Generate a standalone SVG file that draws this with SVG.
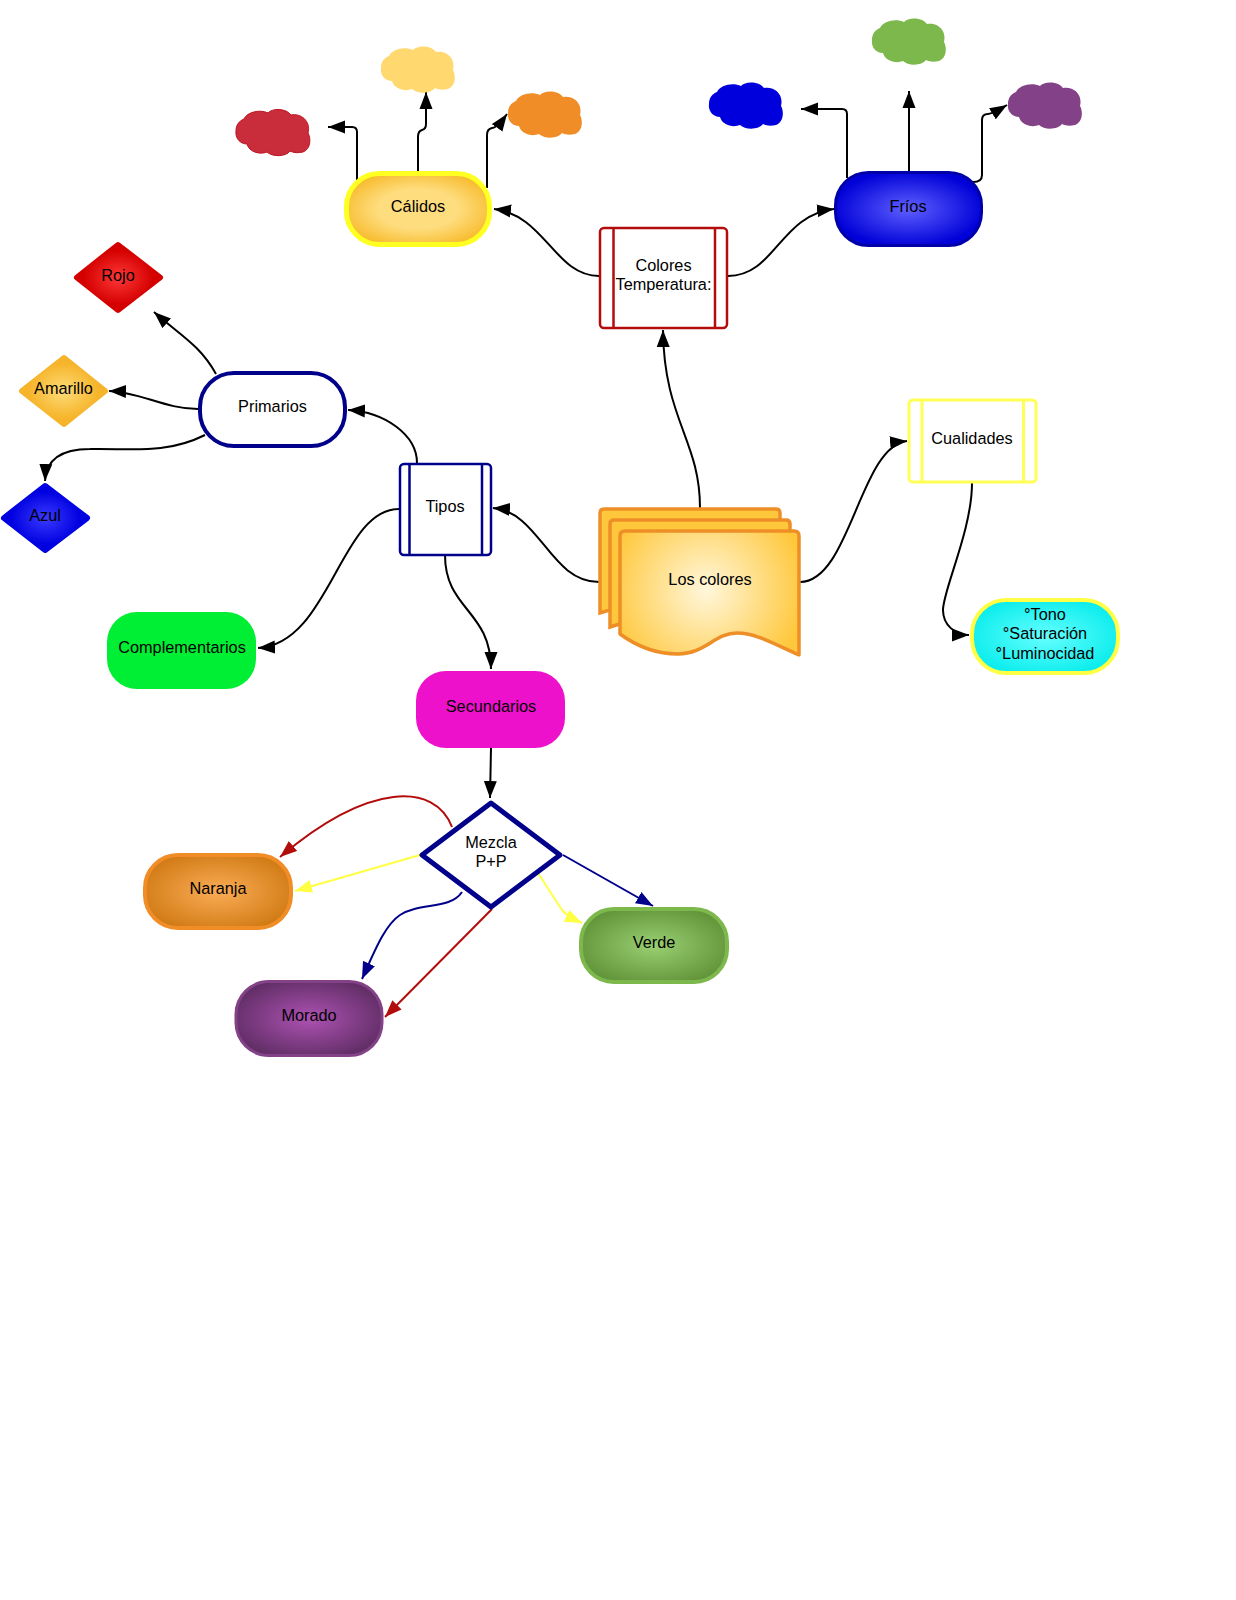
<svg xmlns="http://www.w3.org/2000/svg" xmlns:xlink="http://www.w3.org/1999/xlink" width="1236" height="1600" viewBox="0 0 1236 1600">
<style>
text{font-family:"Liberation Sans",Arial,sans-serif;font-size:16.300px;fill:#000;text-anchor:middle}
.c{fill:none;stroke:#000;stroke-width:2;marker-end:url(#ak)}
.cr{fill:none;stroke:#b30c0c;stroke-width:2;marker-end:url(#ar)}
.cy{fill:none;stroke:#ffff44;stroke-width:2;marker-end:url(#ay)}
.cn{fill:none;stroke:#00008b;stroke-width:2;marker-end:url(#an)}
</style>
<defs>
<marker id="ak" markerUnits="userSpaceOnUse" markerWidth="18" markerHeight="14" refX="17" refY="7" orient="auto"><path d="M0 .5L17 7L0 13.500Z" fill="#000"/></marker>
<marker id="ar" markerUnits="userSpaceOnUse" markerWidth="18" markerHeight="14" refX="17" refY="7" orient="auto"><path d="M0 .5L17 7L0 13.500Z" fill="#b30c0c"/></marker>
<marker id="ay" markerUnits="userSpaceOnUse" markerWidth="18" markerHeight="14" refX="17" refY="7" orient="auto"><path d="M0 .5L17 7L0 13.500Z" fill="#ffff44"/></marker>
<marker id="an" markerUnits="userSpaceOnUse" markerWidth="18" markerHeight="14" refX="17" refY="7" orient="auto"><path d="M0 .5L17 7L0 13.500Z" fill="#00008b"/></marker>
<radialGradient id="gCal" r=".62"><stop offset=".45" stop-color="#fedd7e"/><stop offset="1" stop-color="#f6b41c"/></radialGradient>
<radialGradient id="gFri" r=".62"><stop offset="0" stop-color="#5f5fff"/><stop offset=".85" stop-color="#0000d8"/></radialGradient>
<radialGradient id="gNar" r=".62"><stop offset="0" stop-color="#fbac55"/><stop offset="1" stop-color="#cc760f"/></radialGradient>
<radialGradient id="gMor" r=".62"><stop offset="0" stop-color="#ad52b2"/><stop offset="1" stop-color="#592a5e"/></radialGradient>
<radialGradient id="gVer" r=".62"><stop offset="0" stop-color="#9acf72"/><stop offset="1" stop-color="#5c8e34"/></radialGradient>
<radialGradient id="gTon" r=".62"><stop offset="0" stop-color="#66ffff"/><stop offset="1" stop-color="#00eaea"/></radialGradient>
<radialGradient id="gRoj" r=".42"><stop offset="0" stop-color="#ff3838"/><stop offset="1" stop-color="#d40000"/></radialGradient>
<radialGradient id="gAma" r=".42"><stop offset="0" stop-color="#fddc78"/><stop offset="1" stop-color="#f6b42a"/></radialGradient>
<radialGradient id="gAzu" r=".42"><stop offset="0" stop-color="#3a3aff"/><stop offset="1" stop-color="#0000e0"/></radialGradient>
<radialGradient id="gDoc" gradientUnits="userSpaceOnUse" cx="706" cy="590" r="100"><stop offset="0" stop-color="#fff7dc"/><stop offset="1" stop-color="#ffc83c"/></radialGradient>
<path id="cloud" d="M8 10C11 3 24 0 32 4C36-1 50-1 55 6C65 4 75 12 72 24C75 29 75 40 67 43C62 44 58 44 54 42C50 48 36 48 31 43C24 46 13 43 11 35C4 35-1 29 0 22C0 16 3 12 8 10Z"/>
</defs>
<rect width="1236" height="1600" fill="#fff"/>
<g id="connectors">
<path class="c" d="M700 508C700 440 664 420 663 330"/>
<path class="c" d="M800 582C850 582 860 446 907 441"/>
<path class="c" d="M972 483C972 530 943 590 943 610C943 625 955 635 969 635"/>
<path class="c" d="M599 582C550 582 540 512 493 508"/>
<path class="c" d="M417 463C417 435 385 412 348 410"/>
<path class="c" d="M216 374C200 345 180 335 154 312"/>
<path class="c" d="M198 409C165 409 140 392 109 391"/>
<path class="c" d="M205 435C165 455 130 448 90 449C60 449 46 460 45 481"/>
<path class="c" d="M399 509C340 509 330 644 258 648"/>
<path class="c" d="M445 555C445 610 491 610 491 669"/>
<path class="c" d="M491 748L490 798"/>
<path class="c" d="M599 276C555 276 545 215 494 209"/>
<path class="c" d="M728 276C775 276 780 215 834 209"/>
<path class="c" d="M357 180V132Q357 127 352 127H328"/>
<path class="c" d="M418 172V137Q418 131 422 130Q426 129 426 124V92"/>
<path class="c" d="M487 188V135Q487 129 492 128Q497 128 507 114"/>
<path class="c" d="M847 178V114Q847 109 842 109H801"/>
<path class="c" d="M909 171V91"/>
<path class="c" d="M973 182Q982 182 982 175V120Q982 114 988 114Q992 114 1007 105"/>
<path class="cr" d="M452 827C435 783 370 781 280 857"/>
<path class="cy" d="M420 855L295 891"/>
<path class="cn" d="M563 855L653 906"/>
<path class="cy" d="M538 873L562 910Q567 916 582 923"/>
<path class="cn" d="M462 892C450 910 420 902 400 915C385 925 375 950 362 979"/>
<path class="cr" d="M492 909L385 1017"/>
</g>
<g id="calidos"><rect x="346.500" y="173.500" width="143" height="71" rx="33" fill="url(#gCal)" stroke="#ffff22" stroke-width="5"/><text x="418" y="212">Cálidos</text></g>
<g id="frios"><rect x="835.500" y="172.500" width="146" height="73" rx="33" fill="url(#gFri)" stroke="#0000a8" stroke-width="3"/><text x="908" y="212">Fríos</text></g>
<g id="cloud-rojo"><use xlink:href="#cloud" href="#cloud" x="236" y="109" fill="#c92c3a" stroke="#bd1220" stroke-width="1"/></g>
<g id="cloud-amarillo"><use xlink:href="#cloud" href="#cloud" x="381" y="46" fill="#ffd970"/></g>
<g id="cloud-naranja"><use xlink:href="#cloud" href="#cloud" x="508" y="91" fill="#f18d26"/></g>
<g id="cloud-azul"><use xlink:href="#cloud" href="#cloud" x="709" y="82" fill="#0000dd"/></g>
<g id="cloud-verde"><use xlink:href="#cloud" href="#cloud" x="872" y="18" fill="#7cb84c"/></g>
<g id="cloud-morado"><use xlink:href="#cloud" href="#cloud" x="1008" y="82" fill="#834187"/></g>
<g id="colores-temperatura"><rect x="600" y="228" width="127" height="100" rx="4" fill="#fff" stroke="#b30c0c" stroke-width="2.500"/><path d="M613.500 228V328M715 228V328" fill="none" stroke="#b30c0c" stroke-width="2.500"/><text x="663.500" y="271">Colores</text><text x="663.500" y="290">Temperatura:</text></g>
<g id="primarios"><rect x="200" y="373" width="145" height="73" rx="34" fill="#fff" stroke="#00008b" stroke-width="4"/><text x="272.500" y="412">Primarios</text></g>
<g id="rojo"><path d="M118 245L160 277.500L118 310L77 277.500Z" fill="url(#gRoj)" stroke="url(#gRoj)" stroke-width="6" stroke-linejoin="round"/><text x="118" y="281">Rojo</text></g>
<g id="amarillo"><path d="M64 358L105 391L64 424L22 391Z" fill="url(#gAma)" stroke="url(#gAma)" stroke-width="6" stroke-linejoin="round"/><text x="63.500" y="394">Amarillo</text></g>
<g id="azul"><path d="M45 486L87 518L45 550L4 518Z" fill="url(#gAzu)" stroke="url(#gAzu)" stroke-width="6" stroke-linejoin="round"/><text x="45" y="521">Azul</text></g>
<g id="tipos"><rect x="400" y="464" width="91" height="91" rx="4" fill="#fff" stroke="#00008b" stroke-width="2.500"/><path d="M409.500 464V555M482 464V555" fill="none" stroke="#00008b" stroke-width="2.500"/><text x="445" y="512">Tipos</text></g>
<g id="los-colores">
<path d="M600 513Q600 509 604 509H776Q780 509 780 513V560L600 613Z" fill="#ffc83c" stroke="#ee8e27" stroke-width="3.500"/>
<path d="M610 524Q610 520 614 520H786Q790 520 790 524V570L610 627Z" fill="#ffc83c" stroke="#ee8e27" stroke-width="3.500"/>
<path d="M620 536Q620 531 625 531H794Q799 531 799 536V655C770 642 755 633 737 633C715 633 705 654 678 654C655 654 635 645 620 634Z" fill="url(#gDoc)" stroke="#ee8e27" stroke-width="3.500" stroke-linejoin="round"/>
<text x="710" y="585">Los colores</text></g>
<g id="cualidades"><rect x="909" y="400" width="127" height="82" rx="4" fill="#fff" stroke="#ffff55" stroke-width="3"/><path d="M922 400V482M1023.500 400V482" fill="none" stroke="#ffff55" stroke-width="3"/><text x="972" y="444">Cualidades</text></g>
<g id="tono"><rect x="972" y="600" width="146" height="73" rx="34" fill="url(#gTon)" stroke="#ffff44" stroke-width="4"/><text x="1045" y="620">°Tono</text><text x="1045" y="639">°Saturación</text><text x="1045" y="659">°Luminocidad</text></g>
<g id="complementarios"><rect x="107" y="612" width="149" height="77" rx="30" fill="#00ee33"/><text x="182" y="653">Complementarios</text></g>
<g id="secundarios"><rect x="416" y="671" width="149" height="77" rx="30" fill="#ee11cc"/><text x="491" y="712">Secundarios</text></g>
<g id="mezcla"><path d="M491 803L560 855L491 907L422 855Z" fill="#fff" stroke="#00008b" stroke-width="5" stroke-linejoin="round"/><text x="491" y="848">Mezcla</text><text x="491" y="867">P+P</text></g>
<g id="naranja"><rect x="145" y="855" width="146" height="73" rx="33" fill="url(#gNar)" stroke="#f18d26" stroke-width="4"/><text x="218" y="894">Naranja</text></g>
<g id="morado"><rect x="236" y="981.500" width="146" height="74" rx="33" fill="url(#gMor)" stroke="#834187" stroke-width="3"/><text x="309" y="1021">Morado</text></g>
<g id="verde"><rect x="581" y="909" width="146" height="73" rx="33" fill="url(#gVer)" stroke="#7cb84c" stroke-width="4"/><text x="654" y="948">Verde</text></g>
</svg>
